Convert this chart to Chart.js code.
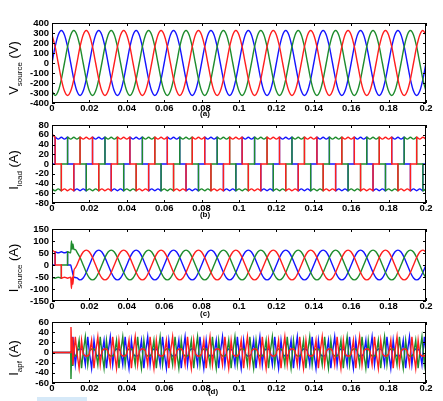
<!DOCTYPE html>
<html>
<head>
<meta charset="utf-8">
<script src="https://cdn.jsdelivr.net/npm/chart.js@4.4.1/dist/chart.umd.min.js"></script>
<style>
html, body { margin: 0; padding: 0; background: #fff; }
body { width: 443px; height: 401px; position: relative; overflow: hidden; font-family: "Liberation Sans", Arial, sans-serif; }
canvas { position: absolute; left: 0; }
.ylab { position: absolute; transform: translate(-50%, -50%) rotate(-90deg); white-space: nowrap; font-size: 13px; color: #000; }
.ylab sub { font-size: 8px; }
.tag { position: absolute; transform: translate(-50%, -50%); font-size: 8px; font-weight: bold; color: #000; }
.blip { position: absolute; left: 37px; top: 397px; width: 50px; height: 4px; background: #d6e9f8; }
</style>
</head>
<body>
<canvas id="chartA" width="443" height="102" style="top:15px;width:443px;height:102px"></canvas>
<canvas id="chartB" width="443" height="100" style="top:117px;width:443px;height:100px"></canvas>
<canvas id="chartC" width="443" height="94" style="top:221px;width:443px;height:94px"></canvas>
<canvas id="chartD" width="443" height="83" style="top:314px;width:443px;height:83px"></canvas>

<div class="ylab" style="left:15px;top:68px">V<sub>source</sub> (V)</div>
<div class="ylab" style="left:15px;top:170px">I<sub>load</sub> (A)</div>
<div class="ylab" style="left:15px;top:268px">I<sub>source</sub> (A)</div>
<div class="ylab" style="left:15px;top:358px">I<sub>apf</sub> (A)</div>

<div class="tag" style="left:205px;top:113px">(a)</div>
<div class="tag" style="left:205px;top:214px">(b)</div>
<div class="tag" style="left:205px;top:313px">(c)</div>
<div class="tag" style="left:213px;top:391px">(d)</div>
<div class="blip"></div>

<script>
// time axis in ms, tick labels in seconds
const xTickVals = [0, 20, 40, 60, 80, 100, 120, 140, 160, 180, 200];
const xTickLabels = ['0', '0.02', '0.04', '0.06', '0.08', '0.1', '0.12', '0.14', '0.16', '0.18', '0.2'];

const yTicksA = [-400, -300, -200, -100, 0, 100, 200, 300, 400];
const yTicksB = [-80, -60, -40, -20, 0, 20, 40, 60, 80];
const yTicksC = [-150, -100, -50, 0, 50, 100, 150];
const yTicksD = [-60, -40, -20, 0, 20, 40, 60];

// (a) source voltage, sampled every 1.67 ms
const timeA = [
  0, 1.67, 3.33, 5, 6.67, 8.33, 10, 11.67, 13.33, 15, 16.67, 18.33,
  20, 21.67, 23.33, 25, 26.67, 28.33, 30, 31.67, 33.33, 35, 36.67, 38.33,
  40, 41.67, 43.33, 45, 46.67, 48.33, 50, 51.67, 53.33, 55, 56.67, 58.33,
  60, 61.67, 63.33, 65, 66.67, 68.33, 70, 71.67, 73.33, 75, 76.67, 78.33,
  80, 81.67, 83.33, 85, 86.67, 88.33, 90, 91.67, 93.33, 95, 96.67, 98.33,
  100, 101.67, 103.33, 105, 106.67, 108.33, 110, 111.67, 113.33, 115, 116.67, 118.33,
  120, 121.67, 123.33, 125, 126.67, 128.33, 130, 131.67, 133.33, 135, 136.67, 138.33,
  140, 141.67, 143.33, 145, 146.67, 148.33, 150, 151.67, 153.33, 155, 156.67, 158.33,
  160, 161.67, 163.33, 165, 166.67, 168.33, 170, 171.67, 173.33, 175, 176.67, 178.33,
  180, 181.67, 183.33, 185, 186.67, 188.33, 190, 191.67, 193.33, 195, 196.67, 198.33,
  200
];
const vsBlue = [
  0, 163, 281, 325, 281, 163, 0, -163, -281, -325, -281, -163,
  0, 163, 281, 325, 281, 163, 0, -163, -281, -325, -281, -163,
  0, 163, 281, 325, 281, 163, 0, -163, -281, -325, -281, -163,
  0, 163, 281, 325, 281, 163, 0, -163, -281, -325, -281, -163,
  0, 163, 281, 325, 281, 163, 0, -163, -281, -325, -281, -163,
  0, 163, 281, 325, 281, 163, 0, -163, -281, -325, -281, -163,
  0, 163, 281, 325, 281, 163, 0, -163, -281, -325, -281, -163,
  0, 163, 281, 325, 281, 163, 0, -163, -281, -325, -281, -163,
  0, 163, 281, 325, 281, 163, 0, -163, -281, -325, -281, -163,
  0, 163, 281, 325, 281, 163, 0, -163, -281, -325, -281, -163,
  0
];
const vsGreen = [
  -281, -325, -281, -163, 0, 163, 281, 325, 281, 163, 0, -163,
  -281, -325, -281, -163, 0, 163, 281, 325, 281, 163, 0, -163,
  -281, -325, -281, -163, 0, 163, 281, 325, 281, 163, 0, -163,
  -281, -325, -281, -163, 0, 163, 281, 325, 281, 163, 0, -163,
  -281, -325, -281, -163, 0, 163, 281, 325, 281, 163, 0, -163,
  -281, -325, -281, -163, 0, 163, 281, 325, 281, 163, 0, -163,
  -281, -325, -281, -163, 0, 163, 281, 325, 281, 163, 0, -163,
  -281, -325, -281, -163, 0, 163, 281, 325, 281, 163, 0, -163,
  -281, -325, -281, -163, 0, 163, 281, 325, 281, 163, 0, -163,
  -281, -325, -281, -163, 0, 163, 281, 325, 281, 163, 0, -163,
  -281
];
const vsRed = [
  281, 163, 0, -163, -281, -325, -281, -163, 0, 163, 281, 325,
  281, 163, 0, -163, -281, -325, -281, -163, 0, 163, 281, 325,
  281, 163, 0, -163, -281, -325, -281, -163, 0, 163, 281, 325,
  281, 163, 0, -163, -281, -325, -281, -163, 0, 163, 281, 325,
  281, 163, 0, -163, -281, -325, -281, -163, 0, 163, 281, 325,
  281, 163, 0, -163, -281, -325, -281, -163, 0, 163, 281, 325,
  281, 163, 0, -163, -281, -325, -281, -163, 0, 163, 281, 325,
  281, 163, 0, -163, -281, -325, -281, -163, 0, 163, 281, 325,
  281, 163, 0, -163, -281, -325, -281, -163, 0, 163, 281, 325,
  281, 163, 0, -163, -281, -325, -281, -163, 0, 163, 281, 325,
  281
];

// (b) load current, repeated times mark the switching edges
const timeB = [
  0, 1.67, 1.67, 3.33, 5, 5, 6.67, 8.33, 8.33, 10, 11.67, 11.67, 13.33, 15, 15, 16.67, 18.33, 18.33,
  20, 21.67, 21.67, 23.33, 25, 25, 26.67, 28.33, 28.33, 30, 31.67, 31.67, 33.33, 35, 35, 36.67, 38.33, 38.33,
  40, 41.67, 41.67, 43.33, 45, 45, 46.67, 48.33, 48.33, 50, 51.67, 51.67, 53.33, 55, 55, 56.67, 58.33, 58.33,
  60, 61.67, 61.67, 63.33, 65, 65, 66.67, 68.33, 68.33, 70, 71.67, 71.67, 73.33, 75, 75, 76.67, 78.33, 78.33,
  80, 81.67, 81.67, 83.33, 85, 85, 86.67, 88.33, 88.33, 90, 91.67, 91.67, 93.33, 95, 95, 96.67, 98.33, 98.33,
  100, 101.67, 101.67, 103.33, 105, 105, 106.67, 108.33, 108.33, 110, 111.67, 111.67, 113.33, 115, 115, 116.67, 118.33, 118.33,
  120, 121.67, 121.67, 123.33, 125, 125, 126.67, 128.33, 128.33, 130, 131.67, 131.67, 133.33, 135, 135, 136.67, 138.33, 138.33,
  140, 141.67, 141.67, 143.33, 145, 145, 146.67, 148.33, 148.33, 150, 151.67, 151.67, 153.33, 155, 155, 156.67, 158.33, 158.33,
  160, 161.67, 161.67, 163.33, 165, 165, 166.67, 168.33, 168.33, 170, 171.67, 171.67, 173.33, 175, 175, 176.67, 178.33, 178.33,
  180, 181.67, 181.67, 183.33, 185, 185, 186.67, 188.33, 188.33, 190, 191.67, 191.67, 193.33, 195, 195, 196.67, 198.33, 198.33,
  200
];
const ilBlue = [
  0, 0, 55, 51, 55, 55, 51, 55, 0, 0, 0, -55, -51, -55, -55, -51, -55, 0,
  0, 0, 55, 51, 55, 55, 51, 55, 0, 0, 0, -55, -51, -55, -55, -51, -55, 0,
  0, 0, 55, 51, 55, 55, 51, 55, 0, 0, 0, -55, -51, -55, -55, -51, -55, 0,
  0, 0, 55, 51, 55, 55, 51, 55, 0, 0, 0, -55, -51, -55, -55, -51, -55, 0,
  0, 0, 55, 51, 55, 55, 51, 55, 0, 0, 0, -55, -51, -55, -55, -51, -55, 0,
  0, 0, 55, 51, 55, 55, 51, 55, 0, 0, 0, -55, -51, -55, -55, -51, -55, 0,
  0, 0, 55, 51, 55, 55, 51, 55, 0, 0, 0, -55, -51, -55, -55, -51, -55, 0,
  0, 0, 55, 51, 55, 55, 51, 55, 0, 0, 0, -55, -51, -55, -55, -51, -55, 0,
  0, 0, 55, 51, 55, 55, 51, 55, 0, 0, 0, -55, -51, -55, -55, -51, -55, 0,
  0, 0, 55, 51, 55, 55, 51, 55, 0, 0, 0, -55, -51, -55, -55, -51, -55, 0,
  0
];
const ilGreen = [
  -51, -55, -55, -51, -55, 0, 0, 0, 55, 51, 55, 55, 51, 55, 0, 0, 0, -55,
  -51, -55, -55, -51, -55, 0, 0, 0, 55, 51, 55, 55, 51, 55, 0, 0, 0, -55,
  -51, -55, -55, -51, -55, 0, 0, 0, 55, 51, 55, 55, 51, 55, 0, 0, 0, -55,
  -51, -55, -55, -51, -55, 0, 0, 0, 55, 51, 55, 55, 51, 55, 0, 0, 0, -55,
  -51, -55, -55, -51, -55, 0, 0, 0, 55, 51, 55, 55, 51, 55, 0, 0, 0, -55,
  -51, -55, -55, -51, -55, 0, 0, 0, 55, 51, 55, 55, 51, 55, 0, 0, 0, -55,
  -51, -55, -55, -51, -55, 0, 0, 0, 55, 51, 55, 55, 51, 55, 0, 0, 0, -55,
  -51, -55, -55, -51, -55, 0, 0, 0, 55, 51, 55, 55, 51, 55, 0, 0, 0, -55,
  -51, -55, -55, -51, -55, 0, 0, 0, 55, 51, 55, 55, 51, 55, 0, 0, 0, -55,
  -51, -55, -55, -51, -55, 0, 0, 0, 55, 51, 55, 55, 51, 55, 0, 0, 0, -55,
  -51
];
const ilRed = [
  62, 55, 0, 0, 0, -55, -51, -55, -55, -51, -55, 0, 0, 0, 55, 51, 55, 55,
  51, 55, 0, 0, 0, -55, -51, -55, -55, -51, -55, 0, 0, 0, 55, 51, 55, 55,
  51, 55, 0, 0, 0, -55, -51, -55, -55, -51, -55, 0, 0, 0, 55, 51, 55, 55,
  51, 55, 0, 0, 0, -55, -51, -55, -55, -51, -55, 0, 0, 0, 55, 51, 55, 55,
  51, 55, 0, 0, 0, -55, -51, -55, -55, -51, -55, 0, 0, 0, 55, 51, 55, 55,
  51, 55, 0, 0, 0, -55, -51, -55, -55, -51, -55, 0, 0, 0, 55, 51, 55, 55,
  51, 55, 0, 0, 0, -55, -51, -55, -55, -51, -55, 0, 0, 0, 55, 51, 55, 55,
  51, 55, 0, 0, 0, -55, -51, -55, -55, -51, -55, 0, 0, 0, 55, 51, 55, 55,
  51, 55, 0, 0, 0, -55, -51, -55, -55, -51, -55, 0, 0, 0, 55, 51, 55, 55,
  51, 55, 0, 0, 0, -55, -51, -55, -55, -51, -55, 0, 0, 0, 55, 51, 55, 55,
  51
];

// (c) source current: load current until the filter starts at 10 ms
const timeC = [
  0, 1.67, 1.67, 3.33, 5, 5, 6.67, 8.33, 8.33, 10, 10.4, 10.8, 11.2, 11.67, 12.5, 13.33,
  15, 16.67, 18.33, 20, 21.67, 23.33, 25, 26.67, 28.33, 30, 31.67, 33.33,
  35, 36.67, 38.33, 40, 41.67, 43.33, 45, 46.67, 48.33, 50, 51.67, 53.33,
  55, 56.67, 58.33, 60, 61.67, 63.33, 65, 66.67, 68.33, 70, 71.67, 73.33,
  75, 76.67, 78.33, 80, 81.67, 83.33, 85, 86.67, 88.33, 90, 91.67, 93.33,
  95, 96.67, 98.33, 100, 101.67, 103.33, 105, 106.67, 108.33, 110, 111.67, 113.33,
  115, 116.67, 118.33, 120, 121.67, 123.33, 125, 126.67, 128.33, 130, 131.67, 133.33,
  135, 136.67, 138.33, 140, 141.67, 143.33, 145, 146.67, 148.33, 150, 151.67, 153.33,
  155, 156.67, 158.33, 160, 161.67, 163.33, 165, 166.67, 168.33, 170, 171.67, 173.33,
  175, 176.67, 178.33, 180, 181.67, 183.33, 185, 186.67, 188.33, 190, 191.67, 193.33,
  195, 196.67, 198.33, 200
];
const isBlue = [
  0, 0, 55, 51, 55, 55, 51, 55, 0, 0, -12, -25, -40, -50, -52, -54,
  -62, -54, -31, 0, 31, 54, 62, 54, 31, 0, -31, -54,
  -62, -54, -31, 0, 31, 54, 62, 54, 31, 0, -31, -54,
  -62, -54, -31, 0, 31, 54, 62, 54, 31, 0, -31, -54,
  -62, -54, -31, 0, 31, 54, 62, 54, 31, 0, -31, -54,
  -62, -54, -31, 0, 31, 54, 62, 54, 31, 0, -31, -54,
  -62, -54, -31, 0, 31, 54, 62, 54, 31, 0, -31, -54,
  -62, -54, -31, 0, 31, 54, 62, 54, 31, 0, -31, -54,
  -62, -54, -31, 0, 31, 54, 62, 54, 31, 0, -31, -54,
  -62, -54, -31, 0, 31, 54, 62, 54, 31, 0, -31, -54,
  -62, -54, -31, 0
];
const isGreen = [
  -51, -55, -55, -51, -55, 0, 0, 0, 55, 51, 100, 65, 88, 66, 64, 54,
  31, 0, -31, -54, -62, -54, -31, 0, 31, 54, 62, 54,
  31, 0, -31, -54, -62, -54, -31, 0, 31, 54, 62, 54,
  31, 0, -31, -54, -62, -54, -31, 0, 31, 54, 62, 54,
  31, 0, -31, -54, -62, -54, -31, 0, 31, 54, 62, 54,
  31, 0, -31, -54, -62, -54, -31, 0, 31, 54, 62, 54,
  31, 0, -31, -54, -62, -54, -31, 0, 31, 54, 62, 54,
  31, 0, -31, -54, -62, -54, -31, 0, 31, 54, 62, 54,
  31, 0, -31, -54, -62, -54, -31, 0, 31, 54, 62, 54,
  31, 0, -31, -54, -62, -54, -31, 0, 31, 54, 62, 54,
  31, 0, -31, -54
];
const isRed = [
  62, 55, 0, 0, 0, -55, -51, -55, -55, -51, -98, -50, -80, -25, -12, 0,
  31, 54, 62, 54, 31, 0, -31, -54, -62, -54, -31, 0,
  31, 54, 62, 54, 31, 0, -31, -54, -62, -54, -31, 0,
  31, 54, 62, 54, 31, 0, -31, -54, -62, -54, -31, 0,
  31, 54, 62, 54, 31, 0, -31, -54, -62, -54, -31, 0,
  31, 54, 62, 54, 31, 0, -31, -54, -62, -54, -31, 0,
  31, 54, 62, 54, 31, 0, -31, -54, -62, -54, -31, 0,
  31, 54, 62, 54, 31, 0, -31, -54, -62, -54, -31, 0,
  31, 54, 62, 54, 31, 0, -31, -54, -62, -54, -31, 0,
  31, 54, 62, 54, 31, 0, -31, -54, -62, -54, -31, 0,
  31, 54, 62, 54
];

// (d) active filter current, zero before 10 ms; edges ramp over ~1.3 ms
const timeD = [
  0, 10, 10.15, 10.5, 10.9,
  11.17, 12.47, 13.33, 14.5, 15.8, 16.67, 17.83, 19.13,
  20, 21.17, 22.47, 23.33, 24.5, 25.8, 26.67, 27.83, 29.13, 30, 31.17, 32.47, 33.33, 34.5, 35.8, 36.67, 37.83, 39.13,
  40, 41.17, 42.47, 43.33, 44.5, 45.8, 46.67, 47.83, 49.13, 50, 51.17, 52.47, 53.33, 54.5, 55.8, 56.67, 57.83, 59.13,
  60, 61.17, 62.47, 63.33, 64.5, 65.8, 66.67, 67.83, 69.13, 70, 71.17, 72.47, 73.33, 74.5, 75.8, 76.67, 77.83, 79.13,
  80, 81.17, 82.47, 83.33, 84.5, 85.8, 86.67, 87.83, 89.13, 90, 91.17, 92.47, 93.33, 94.5, 95.8, 96.67, 97.83, 99.13,
  100, 101.17, 102.47, 103.33, 104.5, 105.8, 106.67, 107.83, 109.13, 110, 111.17, 112.47, 113.33, 114.5, 115.8, 116.67, 117.83, 119.13,
  120, 121.17, 122.47, 123.33, 124.5, 125.8, 126.67, 127.83, 129.13, 130, 131.17, 132.47, 133.33, 134.5, 135.8, 136.67, 137.83, 139.13,
  140, 141.17, 142.47, 143.33, 144.5, 145.8, 146.67, 147.83, 149.13, 150, 151.17, 152.47, 153.33, 154.5, 155.8, 156.67, 157.83, 159.13,
  160, 161.17, 162.47, 163.33, 164.5, 165.8, 166.67, 167.83, 169.13, 170, 171.17, 172.47, 173.33, 174.5, 175.8, 176.67, 177.83, 179.13,
  180, 181.17, 182.47, 183.33, 184.5, 185.8, 186.67, 187.83, 189.13, 190, 191.17, 192.47, 193.33, 194.5, 195.8, 196.67, 197.83, 199.13,
  200
];
const ifBlue = [
  0, 0, 3, -12, -8,
  31, -24, 3, 7, 7, 3, -24, 31,
  0, -31, 24, -3, -7, -7, -3, 24, -31, 0, 31, -24, 3, 7, 7, 3, -24, 31,
  0, -31, 24, -3, -7, -7, -3, 24, -31, 0, 31, -24, 3, 7, 7, 3, -24, 31,
  0, -31, 24, -3, -7, -7, -3, 24, -31, 0, 31, -24, 3, 7, 7, 3, -24, 31,
  0, -31, 24, -3, -7, -7, -3, 24, -31, 0, 31, -24, 3, 7, 7, 3, -24, 31,
  0, -31, 24, -3, -7, -7, -3, 24, -31, 0, 31, -24, 3, 7, 7, 3, -24, 31,
  0, -31, 24, -3, -7, -7, -3, 24, -31, 0, 31, -24, 3, 7, 7, 3, -24, 31,
  0, -31, 24, -3, -7, -7, -3, 24, -31, 0, 31, -24, 3, 7, 7, 3, -24, 31,
  0, -31, 24, -3, -7, -7, -3, 24, -31, 0, 31, -24, 3, 7, 7, 3, -24, 31,
  0, -31, 24, -3, -7, -7, -3, 24, -31, 0, 31, -24, 3, 7, 7, 3, -24, 31,
  0
];
const ifGreen = [
  0, 0, -52, 5, -25,
  -7, -7, -3, 24, -31, 0, 31, -24,
  3, 7, 7, 3, -24, 31, 0, -31, 24, -3, -7, -7, -3, 24, -31, 0, 31, -24,
  3, 7, 7, 3, -24, 31, 0, -31, 24, -3, -7, -7, -3, 24, -31, 0, 31, -24,
  3, 7, 7, 3, -24, 31, 0, -31, 24, -3, -7, -7, -3, 24, -31, 0, 31, -24,
  3, 7, 7, 3, -24, 31, 0, -31, 24, -3, -7, -7, -3, 24, -31, 0, 31, -24,
  3, 7, 7, 3, -24, 31, 0, -31, 24, -3, -7, -7, -3, 24, -31, 0, 31, -24,
  3, 7, 7, 3, -24, 31, 0, -31, 24, -3, -7, -7, -3, 24, -31, 0, 31, -24,
  3, 7, 7, 3, -24, 31, 0, -31, 24, -3, -7, -7, -3, 24, -31, 0, 31, -24,
  3, 7, 7, 3, -24, 31, 0, -31, 24, -3, -7, -7, -3, 24, -31, 0, 31, -24,
  3, 7, 7, 3, -24, 31, 0, -31, 24, -3, -7, -7, -3, 24, -31, 0, 31, -24,
  3
];
const ifRed = [
  0, 0, 50, 5, 30,
  -24, 31, 0, -31, 24, -3, -7, -7,
  -3, 24, -31, 0, 31, -24, 3, 7, 7, 3, -24, 31, 0, -31, 24, -3, -7, -7,
  -3, 24, -31, 0, 31, -24, 3, 7, 7, 3, -24, 31, 0, -31, 24, -3, -7, -7,
  -3, 24, -31, 0, 31, -24, 3, 7, 7, 3, -24, 31, 0, -31, 24, -3, -7, -7,
  -3, 24, -31, 0, 31, -24, 3, 7, 7, 3, -24, 31, 0, -31, 24, -3, -7, -7,
  -3, 24, -31, 0, 31, -24, 3, 7, 7, 3, -24, 31, 0, -31, 24, -3, -7, -7,
  -3, 24, -31, 0, 31, -24, 3, 7, 7, 3, -24, 31, 0, -31, 24, -3, -7, -7,
  -3, 24, -31, 0, 31, -24, 3, 7, 7, 3, -24, 31, 0, -31, 24, -3, -7, -7,
  -3, 24, -31, 0, 31, -24, 3, 7, 7, 3, -24, 31, 0, -31, 24, -3, -7, -7,
  -3, 24, -31, 0, 31, -24, 3, 7, 7, 3, -24, 31, 0, -31, 24, -3, -7, -7,
  -3
];

const BLUE = '#1414ff';
const GREEN = '#1e8c2d';
const RED = '#ff1e1e';
const tickFont = { family: '"Liberation Sans", Arial, sans-serif', size: 9.5, weight: 'bold', lineHeight: 1 };

// black box round the plot plus short ticks pointing inwards on all four sides
const framePlugin = {
    id: 'frame',
    afterDraw(chart) {
        const { ctx, chartArea: a, scales } = chart;
        ctx.save();
        ctx.strokeStyle = '#000';
        ctx.lineWidth = 1;
        ctx.beginPath();
        scales.x.ticks.forEach(t => {
            const px = Math.round(scales.x.getPixelForValue(t.value)) + 0.5;
            ctx.moveTo(px, a.top); ctx.lineTo(px, a.top + 3);
            ctx.moveTo(px, a.bottom); ctx.lineTo(px, a.bottom - 3);
        });
        scales.y.ticks.forEach(t => {
            const py = Math.round(scales.y.getPixelForValue(t.value)) + 0.5;
            ctx.moveTo(a.left, py); ctx.lineTo(a.left + 3, py);
            ctx.moveTo(a.right, py); ctx.lineTo(a.right - 3, py);
        });
        ctx.stroke();
        ctx.strokeRect(a.left + 0.5, a.top + 0.5, a.right - a.left - 1, a.bottom - a.top - 1);
        ctx.restore();
    }
};

function makePanel(canvasId, times, blue, green, red, yTicks, smooth) {
    const line = (data, color) => ({
        data: data,
        borderColor: color,
        borderWidth: 1.4,
        pointRadius: 0,
        fill: false,
        tension: 0,
        cubicInterpolationMode: smooth ? 'monotone' : 'default',
    });
    return new Chart(document.getElementById(canvasId), {
        type: 'line',
        data: {
            labels: times,
            // first dataset is painted last, so red sits on top
            datasets: [line(red, RED), line(green, GREEN), line(blue, BLUE)],
        },
        options: {
            responsive: false,
            animation: false,
            events: [],
            layout: { padding: { top: 8, right: 17, left: 0, bottom: 0 } },
            plugins: { legend: { display: false }, tooltip: { enabled: false } },
            scales: {
                x: {
                    type: 'linear',
                    min: xTickVals[0],
                    max: xTickVals[xTickVals.length - 1],
                    border: { display: false },
                    grid: { display: false, drawTicks: false },
                    afterBuildTicks: s => { s.ticks = xTickVals.map(v => ({ value: v })); },
                    afterFit: s => { s.height = 14; },
                    ticks: {
                        autoSkip: false, maxRotation: 0, padding: 1, color: '#000', font: tickFont,
                        callback: (v, i) => xTickLabels[i],
                    },
                },
                y: {
                    type: 'linear',
                    min: yTicks[0],
                    max: yTicks[yTicks.length - 1],
                    border: { display: false },
                    grid: { display: false, drawTicks: false },
                    afterBuildTicks: s => { s.ticks = yTicks.map(v => ({ value: v })); },
                    afterFit: s => { s.width = 52; },
                    ticks: {
                        autoSkip: false, padding: 3, color: '#000', font: tickFont,
                        callback: v => String(v),
                    },
                },
            },
        },
        plugins: [framePlugin],
    });
}

makePanel('chartA', timeA, vsBlue, vsGreen, vsRed, yTicksA, true);
makePanel('chartB', timeB, ilBlue, ilGreen, ilRed, yTicksB, true);
makePanel('chartC', timeC, isBlue, isGreen, isRed, yTicksC, true);
makePanel('chartD', timeD, ifBlue, ifGreen, ifRed, yTicksD, false);
</script>
</body>
</html>
